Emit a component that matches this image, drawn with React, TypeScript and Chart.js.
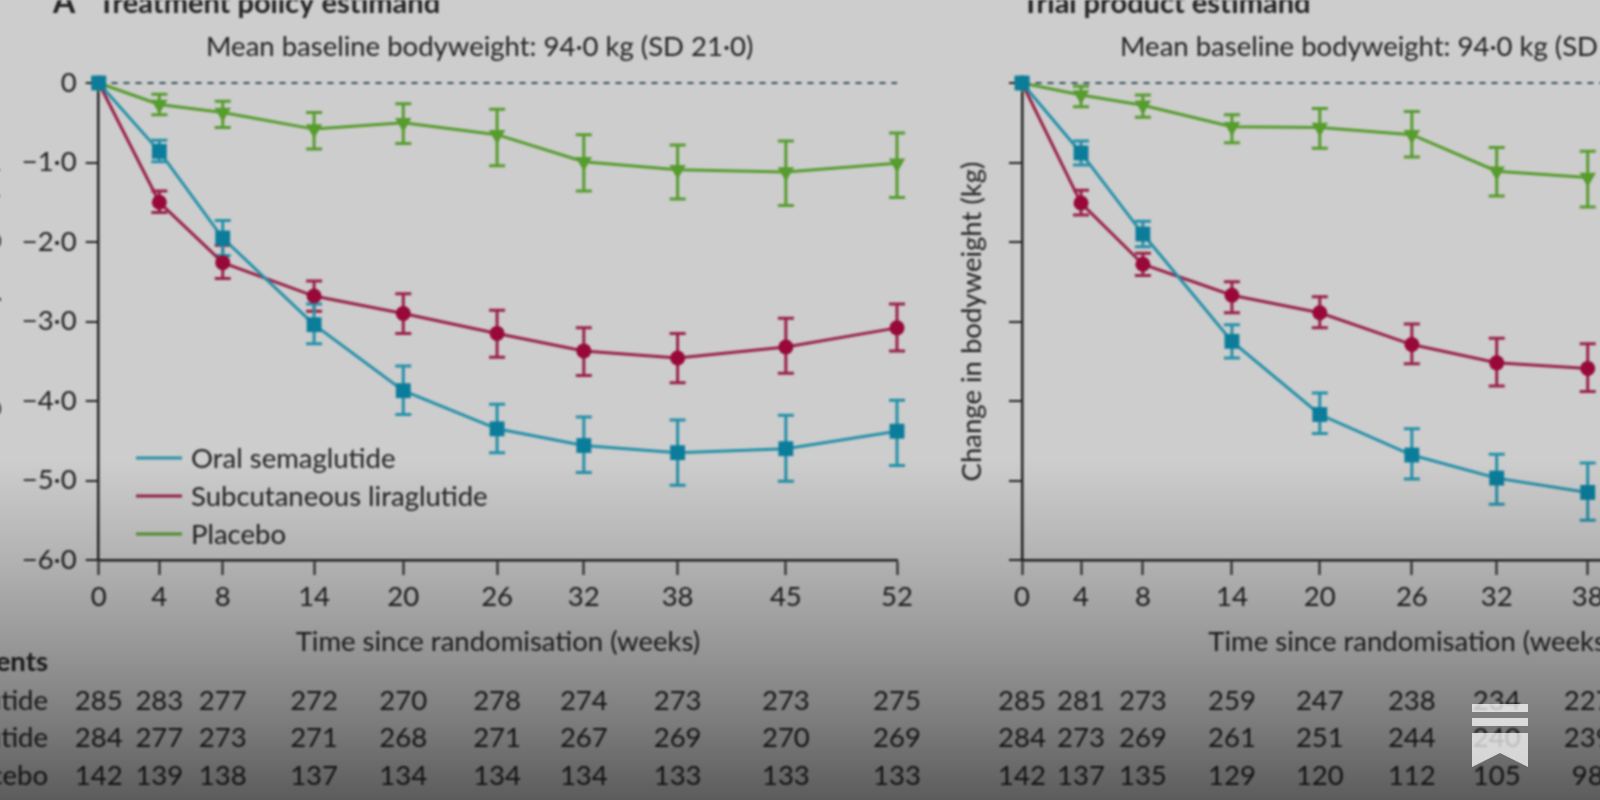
import React, { useEffect, useRef } from "react";
import { Chart, registerables } from "chart.js";

Chart.register(...registerables);

// Tick labels and the x-values (the original's ticks are slightly irregular)
const weekLabelsA = ["0", "4", "8", "14", "20", "26", "32", "38", "45", "52"];
const weekLabelsB = ["0", "4", "8", "14", "20", "26", "32", "38"];
const weeksReadA = [0, 3.95, 8.08, 14.03, 19.84, 25.95, 31.6, 37.71, 44.76, 52];
const weeksReadB = [0, 3.95, 8.09, 14.05, 19.93, 26.09, 31.77, 37.86];
const yLabels = ["−6·0", "−5·0", "−4·0", "−3·0", "−2·0", "−1·0", "0"];

// Panel A: treatment policy estimand
const oralA = [0, -0.86, -1.95, -3.04, -3.87, -4.35, -4.56, -4.65, -4.6, -4.38];
const oralAHigh = [0, -0.72, -1.73, -2.78, -3.56, -4.04, -4.2, -4.24, -4.18, -3.99];
const oralALow = [0, -0.99, -2.17, -3.28, -4.17, -4.65, -4.9, -5.06, -5.01, -4.81];
const liraA = [0, -1.5, -2.26, -2.68, -2.9, -3.15, -3.37, -3.46, -3.32, -3.08];
const liraAHigh = [0, -1.36, -2.04, -2.49, -2.65, -2.86, -3.08, -3.15, -2.96, -2.78];
const liraALow = [0, -1.63, -2.46, -2.87, -3.15, -3.45, -3.68, -3.77, -3.65, -3.37];
const placeboA = [0, -0.27, -0.37, -0.58, -0.5, -0.65, -0.99, -1.09, -1.12, -1.01];
const placeboAHigh = [0, -0.14, -0.23, -0.37, -0.26, -0.33, -0.65, -0.78, -0.73, -0.63];
const placeboALow = [0, -0.4, -0.56, -0.83, -0.76, -1.04, -1.36, -1.46, -1.54, -1.44];

// Panel B: trial product estimand (weeks 45 and 52 are cut off by the picture)
const oralB = [0, -0.88, -1.9, -3.25, -4.17, -4.68, -4.97, -5.15];
const oralBHigh = [0, -0.73, -1.74, -3.04, -3.9, -4.35, -4.67, -4.78];
const oralBLow = [0, -1.03, -2.06, -3.46, -4.41, -4.98, -5.3, -5.5];
const liraB = [0, -1.51, -2.28, -2.67, -2.89, -3.29, -3.52, -3.59];
const liraBHigh = [0, -1.35, -2.14, -2.5, -2.69, -3.03, -3.21, -3.28];
const liraBLow = [0, -1.66, -2.42, -2.89, -3.08, -3.53, -3.81, -3.88];
const placeboB = [0, -0.15, -0.28, -0.55, -0.56, -0.65, -1.11, -1.19];
const placeboBHigh = [0, -0.04, -0.15, -0.4, -0.32, -0.36, -0.81, -0.86];
const placeboBLow = [0, -0.3, -0.43, -0.75, -0.82, -0.93, -1.42, -1.56];

// Number of patients
const countsOralA = [285, 283, 277, 272, 270, 278, 274, 273, 273, 275];
const countsLiraA = [284, 277, 273, 271, 268, 271, 267, 269, 270, 269];
const countsPlaceboA = [142, 139, 138, 137, 134, 134, 134, 133, 133, 133];
const countsOralB = [285, 281, 273, 259, 247, 238, 234, 227];
const countsLiraB = [284, 273, 269, 261, 251, 244, 240, 239];
const countsPlaceboB = [142, 137, 135, 129, 120, 112, 105, 98];

const seriesNames = ["Oral semaglutide", "Subcutaneous liraglutide", "Placebo"];
const rowNames = ["Oral semaglutide", "Subcutaneous liraglutide", "Placebo"];

const TEAL = "#0e9cc0";
const TEAL_LINE = "#2fb4d2";
const RED = "#bd0c48";
const RED_LINE = "#bf2a5a";
const GREEN = "#6cc23a";
const INK = "#2c2c2c";
const FONT = "Lato";
const TEXT_SIZE = 27.5;

type Panel = {
  left: number;
  width: number;
  axisLeft: number;
  axisRight: number;
  weeks: number[];
  tickLabels: string[];
  showYLabels: boolean;
  yTitle: string;
  yTitlePad: number;
  series: { values: number[]; high: number[]; low: number[]; line: string; mark: string; style: string; radius: number; rotation: number }[];
  counts: number[][];
  heading: string;
  letter: string;
  headingX: number;
  subtitleX: number;
  legend: boolean;
  rows: boolean;
};

const panels: Panel[] = [
  {
    left: -60,
    width: 1000,
    axisLeft: 98.7,
    axisRight: 897,
    weeks: weeksReadA,
    tickLabels: weekLabelsA,
    showYLabels: true,
    yTitle: "Change in bodyweight (%)",
    yTitlePad: 31,
    series: [
      { values: oralA, high: oralAHigh, low: oralALow, line: TEAL_LINE, mark: TEAL, style: "rect", radius: 10.5, rotation: 0 },
      { values: liraA, high: liraAHigh, low: liraALow, line: RED_LINE, mark: RED, style: "circle", radius: 7.5, rotation: 0 },
      { values: placeboA, high: placeboAHigh, low: placeboALow, line: GREEN, mark: GREEN, style: "triangle", radius: 9.5, rotation: 180 },
    ],
    counts: [countsOralA, countsLiraA, countsPlaceboA],
    heading: "Treatment policy estimand",
    letter: "A",
    headingX: 98,
    subtitleX: 206,
    legend: true,
    rows: true,
  },
  {
    left: 900,
    width: 960,
    axisLeft: 1022,
    axisRight: 1799,
    weeks: weeksReadB,
    tickLabels: weekLabelsB,
    showYLabels: false,
    yTitle: "Change in bodyweight (kg)",
    yTitlePad: 55.5,
    series: [
      { values: oralB, high: oralBHigh, low: oralBLow, line: TEAL_LINE, mark: TEAL, style: "rect", radius: 10.5, rotation: 0 },
      { values: liraB, high: liraBHigh, low: liraBLow, line: RED_LINE, mark: RED, style: "circle", radius: 7.5, rotation: 0 },
      { values: placeboB, high: placeboBHigh, low: placeboBLow, line: GREEN, mark: GREEN, style: "triangle", radius: 9.5, rotation: 180 },
    ],
    counts: [countsOralB, countsLiraB, countsPlaceboB],
    heading: "Trial product estimand",
    letter: "",
    headingX: 1022,
    subtitleX: 1120,
    legend: false,
    rows: false,
  },
];

const H = 800;
const PLOT_TOP = 83;
const PLOT_BOTTOM = 560;
const X_BOX = 98.5;
const ROW_Y = [701, 738, 776];

function makeChart(canvas: HTMLCanvasElement, p: Panel) {
  const overlayText = {
    id: "panelText",
    beforeDatasetsDraw(chart: any) {
      const { ctx, scales } = chart;
      const x = scales.x;
      const y = scales.y;
      ctx.save();
      ctx.lineCap = "butt";
      [...p.series].reverse().forEach((s) => {
        ctx.strokeStyle = s.line;
        ctx.lineWidth = 3;
        s.values.forEach((_, i) => {
          if (i === 0) return;
          const px = x.getPixelForValue(p.weeks[i]);
          const hi = y.getPixelForValue(s.high[i]);
          const lo = y.getPixelForValue(s.low[i]);
          ctx.beginPath();
          ctx.moveTo(px, hi);
          ctx.lineTo(px, lo);
          ctx.moveTo(px - 8, hi);
          ctx.lineTo(px + 8, hi);
          ctx.moveTo(px - 8, lo);
          ctx.lineTo(px + 8, lo);
          ctx.stroke();
        });
      });
      ctx.restore();
    },
    afterDraw(chart: any) {
      const { ctx, scales } = chart;
      const x = scales.x;
      ctx.save();
      ctx.fillStyle = INK;
      ctx.textBaseline = "alphabetic";
      ctx.textAlign = "left";
      ctx.font = `bold 32px ${FONT}`;
      if (p.letter) ctx.fillText(p.letter, 53 - p.left, 13);
      ctx.font = `bold 29px ${FONT}`;
      ctx.fillText(p.heading, p.headingX - p.left, 13);
      ctx.font = `${TEXT_SIZE}px ${FONT}`;
      ctx.textBaseline = "middle";
      ctx.fillText("Mean baseline bodyweight: 94·0 kg (SD 21·0)", p.subtitleX - p.left, 47);

      ctx.textAlign = "center";
      p.counts.forEach((row, r) => {
        row.forEach((n, i) => {
          ctx.fillText(String(n), x.getPixelForValue(p.weeks[i]), ROW_Y[r]);
        });
      });
      if (p.rows) {
        ctx.textAlign = "right";
        rowNames.forEach((name, r) => ctx.fillText(name, 48 - p.left, ROW_Y[r]));
        ctx.font = `bold ${TEXT_SIZE}px ${FONT}`;
        ctx.fillText("Number of patients", 48 - p.left, 662);
      }
      if (p.legend) {
        ctx.font = `${TEXT_SIZE}px ${FONT}`;
        ctx.textAlign = "left";
        chart.data.datasets.forEach((d: any, i: number) => {
          const ly = 458 + i * 38;
          ctx.strokeStyle = d.borderColor;
          ctx.lineWidth = 3;
          ctx.beginPath();
          ctx.moveTo(136 - p.left, ly);
          ctx.lineTo(182 - p.left, ly);
          ctx.stroke();
          ctx.fillStyle = INK;
          ctx.fillText(seriesNames[i], 191 - p.left, ly + 1);
        });
      }
      ctx.restore();
    },
  };

  return new Chart(canvas, {
    type: "line",
    data: {
      datasets: p.series.map((s, i) => ({
        label: seriesNames[i],
        data: s.values.map((v, j) => ({ x: p.weeks[j], y: v })),
        borderColor: s.line,
        borderWidth: 3,
        backgroundColor: s.mark,
        pointBackgroundColor: s.mark,
        pointBorderColor: s.mark,
        pointBorderWidth: 0,
        pointStyle: s.style,
        pointRadius: s.radius,
        pointRotation: s.rotation,
        tension: 0,
        clip: false as any,
      })),
    },
    plugins: [overlayText],
    options: {
      animation: false,
      responsive: false,
      devicePixelRatio: 1,
      layout: {
        padding: {
          left: 0,
          top: PLOT_TOP,
          right: p.left + p.width - p.axisRight,
          bottom: H - PLOT_BOTTOM - X_BOX,
        },
      },
      plugins: { legend: { display: false }, title: { display: false }, tooltip: { enabled: false } },
      scales: {
        x: {
          type: "linear",
          min: 0,
          max: 52,
          afterFit: (s: any) => {
            s.height = X_BOX;
          },
          afterBuildTicks: (s: any) => {
            s.ticks = p.weeks.map((value) => ({ value }));
          },
          grid: { drawOnChartArea: false, drawTicks: true, tickLength: 15, tickColor: INK, tickWidth: 2 },
          border: { color: INK, width: 2.5 },
          ticks: {
            autoSkip: false,
            maxRotation: 0,
            padding: 6,
            color: INK,
            font: { family: FONT, size: TEXT_SIZE },
            callback: (_: any, i: number) => p.tickLabels[i],
          },
          title: {
            display: true,
            text: "Time since randomisation (weeks)",
            color: INK,
            font: { family: FONT, size: TEXT_SIZE },
            padding: 0,
          },
        },
        y: {
          type: "linear",
          min: -6,
          max: 0,
          afterFit: (s: any) => {
            s.width = p.axisLeft - p.left;
          },
          grid: {
            drawOnChartArea: true,
            drawTicks: true,
            tickLength: 13,
            tickWidth: 2,
            tickColor: INK,
            lineWidth: 2,
            color: (c: any) => (c.tick && c.tick.value === 0 ? "#3f6272" : "rgba(0,0,0,0)"),
          },
          border: { color: INK, width: 2.5, dash: [6, 6] },
          ticks: {
            stepSize: 1,
            padding: 9,
            color: INK,
            font: { family: FONT, size: TEXT_SIZE },
            callback: (v: any) => (p.showYLabels ? yLabels[Number(v) + 6] : ""),
          },
          title: {
            display: true,
            text: p.yTitle,
            color: INK,
            font: { family: FONT, size: TEXT_SIZE },
            padding: { top: p.yTitlePad, bottom: 0 },
          },
        },
      },
    } as any,
  });
}

function PanelCanvas({ panel }: { panel: Panel }) {
  const ref = useRef<HTMLCanvasElement>(null);
  useEffect(() => {
    const chart = makeChart(ref.current as HTMLCanvasElement, panel);
    return () => chart.destroy();
  }, [panel]);
  return (
    <canvas
      ref={ref}
      width={panel.width}
      height={H}
      style={{ position: "absolute", left: panel.left, top: 0, width: panel.width, height: H }}
    />
  );
}

export default function App() {
  return (
    <div style={{ position: "absolute", left: 0, top: 0, width: 1600, height: 800, overflow: "hidden", background: "#fff" }}>
      <div style={{ position: "absolute", inset: 0, filter: "blur(0.8px)" }}>
        {panels.map((p) => (
          <PanelCanvas key={p.heading} panel={p} />
        ))}
      </div>
      <div
        style={{
          position: "absolute",
          inset: 0,
          background:
            "linear-gradient(to bottom, rgba(0,0,0,0.195) 0px, rgba(0,0,0,0.195) 460px, rgba(0,0,0,0.3) 560px, rgba(0,0,0,0.4) 640px, rgba(0,0,0,0.51) 720px, rgba(0,0,0,0.64) 800px)",
        }}
      />
      <svg width={56} height={64} viewBox="0 0 56 64" style={{ position: "absolute", left: 1472, top: 704 }}>
        <g fill="rgba(255,255,255,0.72)">
          <rect x={0} y={0} width={56} height={8} />
          <rect x={0} y={14} width={56} height={8} />
          <path d="M0 29H56V63L28 49L0 63Z" />
        </g>
      </svg>
    </div>
  );
}
